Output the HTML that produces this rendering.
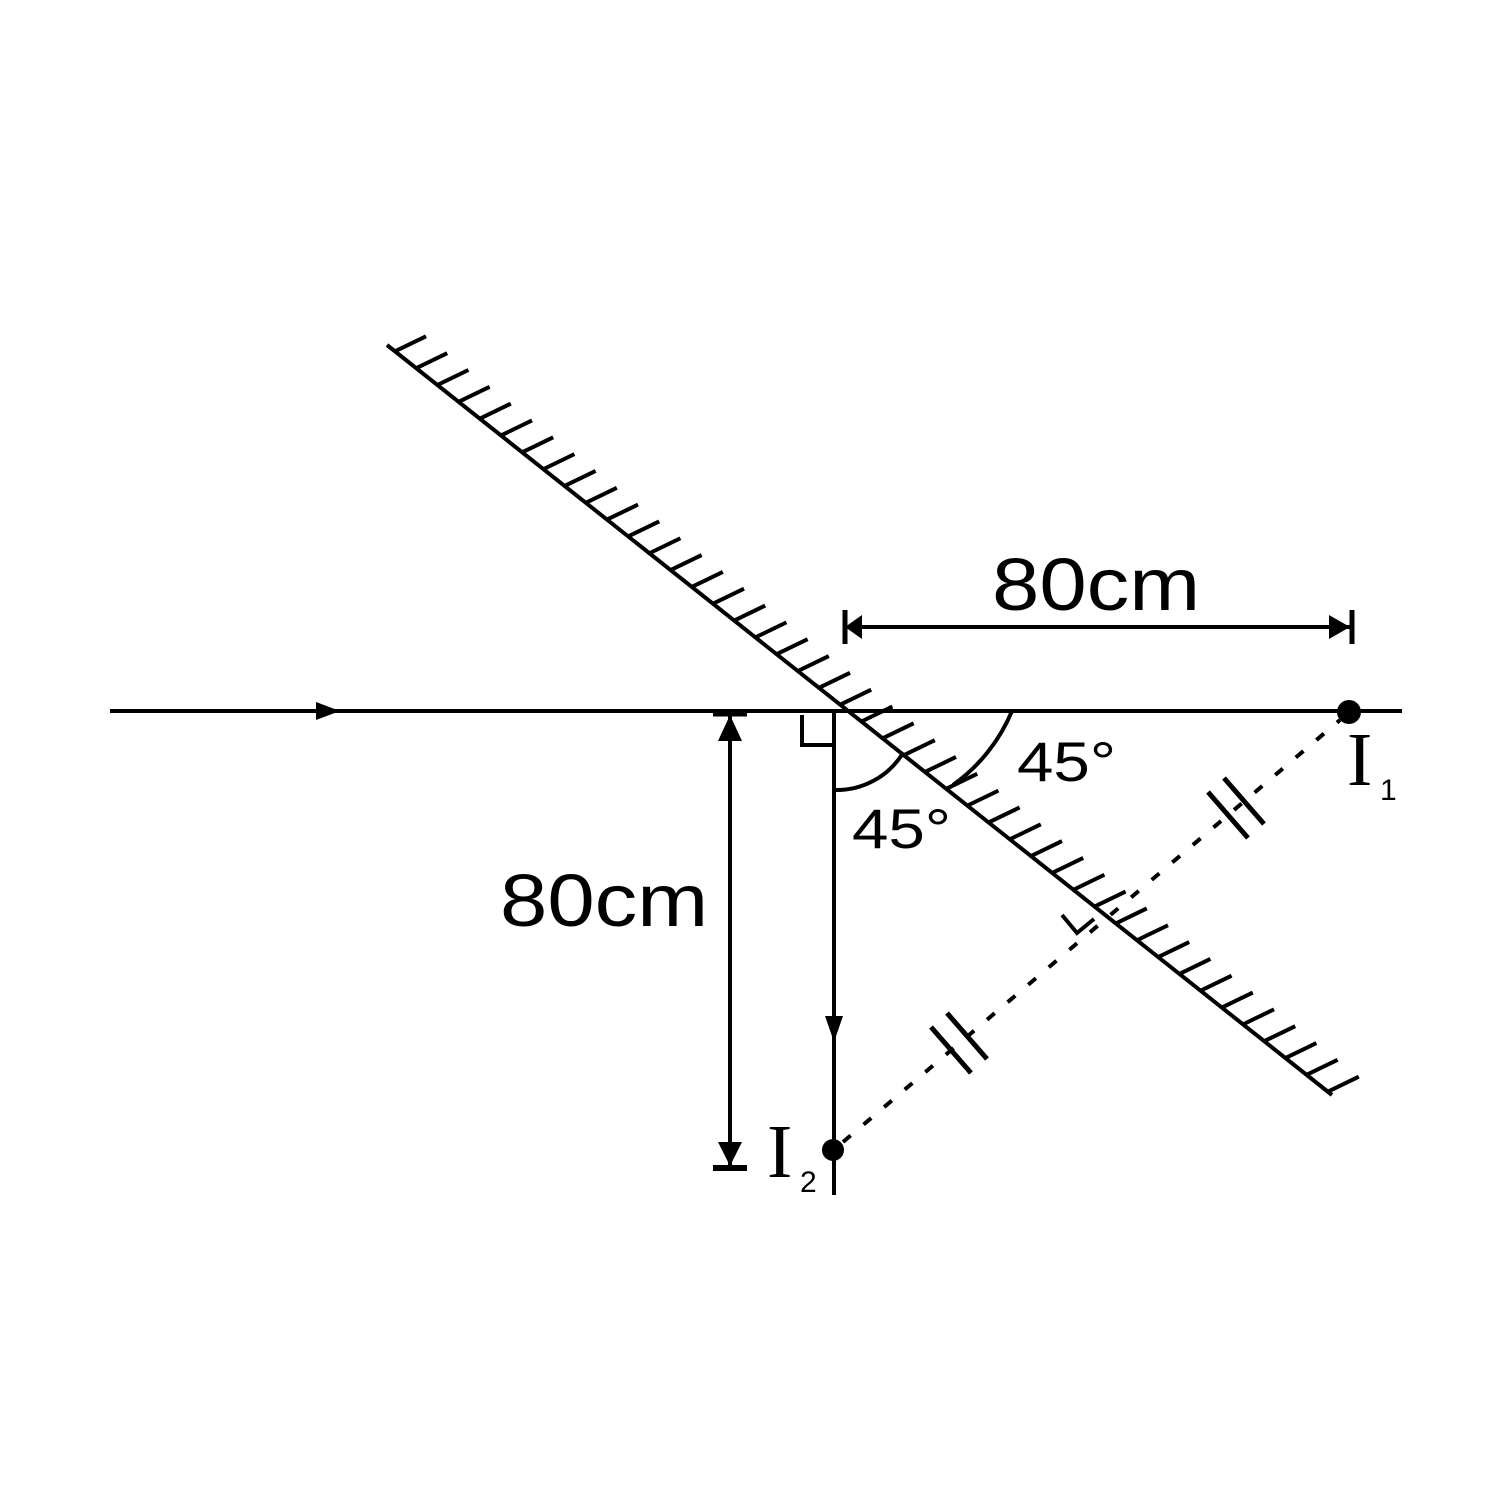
<!DOCTYPE html>
<html><head><style>html,body{margin:0;padding:0;background:#fff}</style></head>
<body>
<svg width="1500" height="1500" viewBox="0 0 1500 1500" xmlns="http://www.w3.org/2000/svg">
<g stroke="#000" stroke-width="4" fill="none">
<line x1="110" y1="711" x2="1402" y2="711"/>
<line x1="834" y1="711" x2="834" y2="1195"/>
<line x1="387" y1="345" x2="1332" y2="1095"/>
<line x1="845" y1="627" x2="1352" y2="627"/>
<line x1="845" y1="610" x2="845" y2="644" stroke-width="5"/>
<line x1="1352" y1="610" x2="1352" y2="644" stroke-width="5"/>
<line x1="730" y1="715" x2="730" y2="1168"/>
<line x1="713" y1="1168" x2="747" y2="1168" stroke-width="6"/>
<line x1="713" y1="714" x2="747" y2="714" stroke-width="5"/>
<polyline points="802,715 802,745 834,745"/>
<path d="M834 790 A 78 78 0 0 0 903 753"/>
<path d="M1012 711 A 172 172 0 0 1 953 785"/>
<line x1="843" y1="1142" x2="1340" y2="720" stroke-dasharray="10,17"/>
<polyline points="1062,915 1077,933 1094,919"/>
<line x1="1208" y1="792" x2="1248" y2="838" stroke-width="5"/>
<line x1="1224" y1="778" x2="1264" y2="824" stroke-width="5"/>
<line x1="931" y1="1027" x2="971" y2="1073" stroke-width="5"/>
<line x1="947" y1="1013" x2="987" y2="1059" stroke-width="5"/>
</g>
<g fill="#000">
<polygon points="316,702 340,711 316,720"/>
<polygon points="825,1016 834,1042 843,1016"/>
<polygon points="862,615 845,627 862,639" />
<polygon points="1329,615 1350,627 1329,639"/>
<polygon points="718,741 730,715 742,741"/>
<polygon points="718,1142 730,1166 742,1142"/>
<circle cx="1349" cy="712" r="12"/>
<circle cx="833" cy="1150" r="11"/>
</g>
<g font-family="Liberation Sans, sans-serif" fill="#000">
<text transform="translate(992 610) scale(1.15 1)" font-size="74">80cm</text>
<text transform="translate(500 926) scale(1.15 1)" font-size="74">80cm</text>
<text transform="translate(1017 781) scale(1.17 1)" font-size="56">45°</text>
<text transform="translate(852 848) scale(1.17 1)" font-size="56">45°</text>
<text x="1380" y="800" font-size="30">1</text>
<text x="800" y="1192" font-size="30">2</text>
</g>
<g font-family="Liberation Serif, serif" fill="#000" font-size="76">
<text x="1347" y="785">I</text>
<text x="767" y="1177">I</text>
</g>
<g id="hg" stroke="#000" stroke-width="4"></g>
</svg>
<script>
var g=document.getElementById('hg'),s='';
for(var i=0;i<45;i++){var t=8+i*21.2;var x=387+t,y=345+t*750/945;
s+='<line x1="'+x+'" y1="'+y+'" x2="'+(x+31)+'" y2="'+(y-15)+'"/>';}
g.innerHTML=s;
</script>
</body></html>
